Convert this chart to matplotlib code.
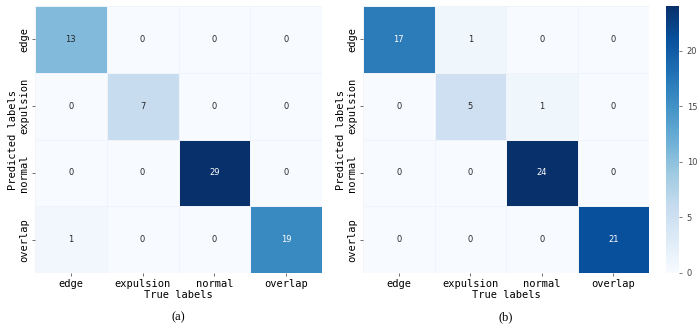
import numpy as np
import matplotlib
matplotlib.use('Agg')
import matplotlib.pyplot as plt
import seaborn as sns

# confusion matrices (rows = predicted, cols = true)
labels = ['edge', 'expulsion', 'normal', 'overlap']
cm_a = np.array([[13, 0, 0, 0],
                 [0, 7, 0, 0],
                 [0, 0, 29, 0],
                 [1, 0, 0, 19]])
cm_b = np.array([[17, 1, 0, 0],
                 [0, 5, 1, 0],
                 [0, 0, 24, 0],
                 [0, 0, 0, 21]])
captions = ['(a)', '(b)']

fig = plt.figure(figsize=(7, 3.26), dpi=100)
W, H = 700.0, 326.0
ax1 = fig.add_axes([35/W, 1-273/H, 287/W, 267/H])
ax2 = fig.add_axes([363/W, 1-273/H, 286/W, 267/H])
cax = fig.add_axes([666/W, 1-273/H, 13/W, 267/H])

mono = 'DejaVu Sans Mono'
for ax, cm, cap, cb in [(ax1, cm_a, captions[0], False), (ax2, cm_b, captions[1], True)]:
    sns.heatmap(cm, ax=ax, cmap='Blues', annot=True, fmt='d', linewidths=0.4, linecolor='#f0f4fa',
                annot_kws={'size': 6}, cbar=cb, cbar_ax=cax if cb else None,
                xticklabels=labels, yticklabels=labels)
    ax.set_xticklabels(labels, fontsize=7.5, family=mono, rotation=0)
    ax.set_yticklabels(labels, fontsize=7.5, family=mono, rotation=90, va='center')
    ax.set_xlabel('True labels', fontsize=7.5, family=mono, labelpad=1)
    ax.set_ylabel('Predicted labels', fontsize=7.5, family=mono, labelpad=1)
    ax.tick_params(length=2, width=0.6, pad=2, color='#555555')
    pos = ax.get_position()
    fig.text((pos.x0 + pos.x1) / 2, 3/H, cap, ha='center', va='bottom',
             fontsize=9, family='Liberation Serif')

cax.tick_params(labelsize=6, length=2, width=0.5, colors='#444444')
cax.set_yticks([0, 5, 10, 15, 20])
for s in cax.spines.values():
    s.set_visible(False)

fig.savefig('out.png', dpi=100)
